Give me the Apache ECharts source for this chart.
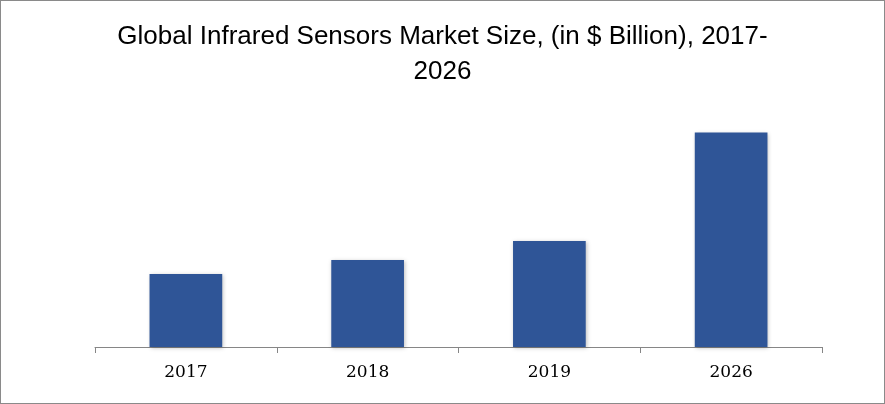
<!DOCTYPE html>
<html>
<head>
<meta charset="utf-8">
<script src="https://cdn.jsdelivr.net/npm/echarts@6/dist/echarts.min.js"></script>
<style>
html,body{margin:0;padding:0;background:#fff;}
#wrap{width:885px;height:404px;box-sizing:border-box;border:1px solid #8a8a8a;position:relative;overflow:hidden;}
#chart{position:absolute;left:-1px;top:-1px;width:885px;height:404px;}
</style>
</head>
<body>
<div id="wrap"><div id="chart"></div></div>
<script>
const titleText = 'Global Infrared Sensors Market Size, (in $ Billion), 2017-\n2026';
const categories = ['2017', '2018', '2019', '2026'];
const values = [7.3, 8.7, 10.6, 21.45];

const chart = echarts.init(document.getElementById('chart'));
chart.setOption({
  backgroundColor: 'transparent',
  animation: false,
  title: {
    text: titleText,
    left: 'center',
    top: 14,
    textStyle: {
      fontFamily: 'Liberation Sans Narrow, Liberation Sans, sans-serif',
      fontWeight: 'normal',
      fontSize: 26,
      color: '#000',
      lineHeight: 35
    }
  },
  grid: { left: 95, right: 63, top: 47, bottom: 57 },
  xAxis: {
    type: 'category',
    data: categories,
    axisLine: { lineStyle: { color: '#868686', width: 1 } },
    axisTick: { show: true, length: 6, lineStyle: { color: '#868686' } },
    axisLabel: {
      margin: 17,
      fontFamily: 'DejaVu Serif, Liberation Serif, serif',
      fontSize: 17,
      color: '#000'
    }
  },
  yAxis: {
    type: 'value',
    min: 0,
    max: 30,
    show: false,
    splitLine: { show: false }
  },
  series: [{
    type: 'bar',
    data: values,
    barWidth: '40%',
    itemStyle: {
      color: '#2f5597',
      shadowColor: 'rgba(0,0,0,0.25)',
      shadowBlur: 4,
      shadowOffsetX: 1,
      shadowOffsetY: 1
    }
  }]
});
</script>
</body>
</html>
